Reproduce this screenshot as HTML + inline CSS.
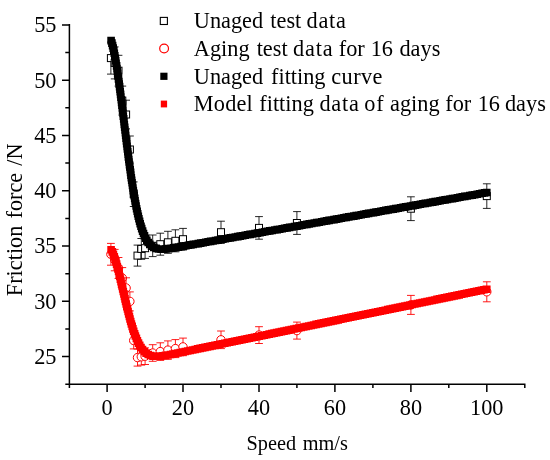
<!DOCTYPE html>
<html><head><meta charset="utf-8"><title>Friction force vs speed</title>
<style>
html,body{margin:0;padding:0;background:#fff;}
body{width:550px;height:460px;overflow:hidden;}
svg{display:block;font-family:"Liberation Serif","Times New Roman",serif;}
</style></head><body>
<svg width="550" height="460" viewBox="0 0 550 460">
<rect width="550" height="460" fill="#fff"/>

<g id="unaged-data" stroke="#000" stroke-width="0.85" fill="#fff">
<path d="M110.9 42.1V74.1M107.0 42.1h7.8M107.0 74.1h7.8" fill="none"/><rect x="107.4" y="54.6" width="7" height="7" stroke-width="1"/>
<path d="M114.7 46.9V78.9M110.8 46.9h7.8M110.8 78.9h7.8" fill="none"/><rect x="111.2" y="59.4" width="7" height="7" stroke-width="1"/>
<path d="M118.5 55.3V86.1M114.6 55.3h7.8M114.6 86.1h7.8" fill="none"/><rect x="115.0" y="67.2" width="7" height="7" stroke-width="1"/>
<path d="M122.3 86.1V115.1M118.4 86.1h7.8M118.4 115.1h7.8" fill="none"/><rect x="118.8" y="97.1" width="7" height="7" stroke-width="1"/>
<path d="M126.1 100.2V128.8M122.2 100.2h7.8M122.2 128.8h7.8" fill="none"/><rect x="122.6" y="111.0" width="7" height="7" stroke-width="1"/>
<path d="M129.9 136.0V163.0M126.0 136.0h7.8M126.0 163.0h7.8" fill="none"/><rect x="126.4" y="146.0" width="7" height="7" stroke-width="1"/>
<path d="M133.7 181.9V206.5M129.8 181.9h7.8M129.8 206.5h7.8" fill="none"/><rect x="130.2" y="190.7" width="7" height="7" stroke-width="1"/>
<path d="M137.5 245.1V266.1M133.6 245.1h7.8M133.6 266.1h7.8" fill="none"/><rect x="134.0" y="252.1" width="7" height="7" stroke-width="1"/>
<path d="M141.3 238.5V259.3M137.4 238.5h7.8M137.4 259.3h7.8" fill="none"/><rect x="137.8" y="245.4" width="7" height="7" stroke-width="1"/>
<path d="M145.1 238.0V258.4M141.2 238.0h7.8M141.2 258.4h7.8" fill="none"/><rect x="141.6" y="244.7" width="7" height="7" stroke-width="1"/>
<path d="M152.7 235.0V256.6M148.8 235.0h7.8M148.8 256.6h7.8" fill="none"/><rect x="149.2" y="242.3" width="7" height="7" stroke-width="1"/>
<path d="M160.3 233.2V255.2M156.4 233.2h7.8M156.4 255.2h7.8" fill="none"/><rect x="156.8" y="240.7" width="7" height="7" stroke-width="1"/>
<path d="M167.9 231.3V253.3M164.0 231.3h7.8M164.0 253.3h7.8" fill="none"/><rect x="164.4" y="238.8" width="7" height="7" stroke-width="1"/>
<path d="M175.4 229.8V251.8M171.5 229.8h7.8M171.5 251.8h7.8" fill="none"/><rect x="171.9" y="237.3" width="7" height="7" stroke-width="1"/>
<path d="M183.0 228.4V250.0M179.1 228.4h7.8M179.1 250.0h7.8" fill="none"/><rect x="179.5" y="235.7" width="7" height="7" stroke-width="1"/>
<path d="M221.0 221.2V243.2M217.1 221.2h7.8M217.1 243.2h7.8" fill="none"/><rect x="217.5" y="228.7" width="7" height="7" stroke-width="1"/>
<path d="M259.0 216.6V239.2M255.1 216.6h7.8M255.1 239.2h7.8" fill="none"/><rect x="255.5" y="224.4" width="7" height="7" stroke-width="1"/>
<path d="M296.9 211.6V234.4M293.1 211.6h7.8M293.1 234.4h7.8" fill="none"/><rect x="293.4" y="219.5" width="7" height="7" stroke-width="1"/>
<path d="M410.9 196.8V220.6M407.0 196.8h7.8M407.0 220.6h7.8" fill="none"/><rect x="407.4" y="205.2" width="7" height="7" stroke-width="1"/>
<path d="M486.8 183.8V208.4M482.9 183.8h7.8M482.9 208.4h7.8" fill="none"/><rect x="483.3" y="192.6" width="7" height="7" stroke-width="1"/>
</g>
<g id="aged-data" stroke="#f00" stroke-width="0.9" fill="#fff">
<path d="M110.9 243.4V265.2M107.0 243.4h7.8M107.0 265.2h7.8" fill="none"/><circle cx="110.9" cy="254.3" r="4.2" stroke-width="1"/>
<path d="M114.7 249.4V270.8M110.8 249.4h7.8M110.8 270.8h7.8" fill="none"/><circle cx="114.7" cy="260.1" r="4.2" stroke-width="1"/>
<path d="M118.5 257.5V278.5M114.6 257.5h7.8M114.6 278.5h7.8" fill="none"/><circle cx="118.5" cy="268.0" r="4.2" stroke-width="1"/>
<path d="M122.3 267.6V288.6M118.4 267.6h7.8M118.4 288.6h7.8" fill="none"/><circle cx="122.3" cy="278.1" r="4.2" stroke-width="1"/>
<path d="M126.1 277.8V298.2M122.2 277.8h7.8M122.2 298.2h7.8" fill="none"/><circle cx="126.1" cy="288.0" r="4.2" stroke-width="1"/>
<path d="M129.9 291.9V310.9M126.0 291.9h7.8M126.0 310.9h7.8" fill="none"/><circle cx="129.9" cy="301.4" r="4.2" stroke-width="1"/>
<path d="M133.7 332.1V348.9M129.8 332.1h7.8M129.8 348.9h7.8" fill="none"/><circle cx="133.7" cy="340.5" r="4.2" stroke-width="1"/>
<path d="M137.5 349.1V366.1M133.6 349.1h7.8M133.6 366.1h7.8" fill="none"/><circle cx="137.5" cy="357.6" r="4.2" stroke-width="1"/>
<path d="M141.3 348.5V365.1M137.4 348.5h7.8M137.4 365.1h7.8" fill="none"/><circle cx="141.3" cy="356.8" r="4.2" stroke-width="1"/>
<path d="M145.1 347.9V364.5M141.2 347.9h7.8M141.2 364.5h7.8" fill="none"/><circle cx="145.1" cy="356.2" r="4.2" stroke-width="1"/>
<path d="M152.7 344.7V361.3M148.8 344.7h7.8M148.8 361.3h7.8" fill="none"/><circle cx="152.7" cy="353.0" r="4.2" stroke-width="1"/>
<path d="M160.3 342.8V360.4M156.4 342.8h7.8M156.4 360.4h7.8" fill="none"/><circle cx="160.3" cy="351.6" r="4.2" stroke-width="1"/>
<path d="M167.9 340.9V359.3M164.0 340.9h7.8M164.0 359.3h7.8" fill="none"/><circle cx="167.9" cy="350.1" r="4.2" stroke-width="1"/>
<path d="M175.4 339.6V357.6M171.5 339.6h7.8M171.5 357.6h7.8" fill="none"/><circle cx="175.4" cy="348.6" r="4.2" stroke-width="1"/>
<path d="M183.0 338.1V355.7M179.1 338.1h7.8M179.1 355.7h7.8" fill="none"/><circle cx="183.0" cy="346.9" r="4.2" stroke-width="1"/>
<path d="M221.0 331.0V348.6M217.1 331.0h7.8M217.1 348.6h7.8" fill="none"/><circle cx="221.0" cy="339.8" r="4.2" stroke-width="1"/>
<path d="M259.0 326.7V343.5M255.1 326.7h7.8M255.1 343.5h7.8" fill="none"/><circle cx="259.0" cy="335.1" r="4.2" stroke-width="1"/>
<path d="M296.9 322.1V339.1M293.1 322.1h7.8M293.1 339.1h7.8" fill="none"/><circle cx="296.9" cy="330.6" r="4.2" stroke-width="1"/>
<path d="M410.9 295.4V314.4M407.0 295.4h7.8M407.0 314.4h7.8" fill="none"/><circle cx="410.9" cy="304.9" r="4.2" stroke-width="1"/>
<path d="M486.8 281.8V301.8M482.9 281.8h7.8M482.9 301.8h7.8" fill="none"/><circle cx="486.8" cy="291.8" r="4.2" stroke-width="1"/>
</g>
<path id="unaged-fit" d="M107.3 36.8h7.6v7.6h-7.6zM108.1 39.3h7.6v7.6h-7.6zM108.8 41.8h7.6v7.6h-7.6zM109.4 44.3h7.6v7.6h-7.6zM110.0 46.8h7.6v7.6h-7.6zM110.5 49.4h7.6v7.6h-7.6zM111.0 52.0h7.6v7.6h-7.6zM111.5 54.4h7.6v7.6h-7.6zM111.9 57.0h7.6v7.6h-7.6zM112.3 59.5h7.6v7.6h-7.6zM112.8 62.1h7.6v7.6h-7.6zM113.2 64.8h7.6v7.6h-7.6zM113.6 67.3h7.6v7.6h-7.6zM113.9 69.8h7.6v7.6h-7.6zM114.3 72.4h7.6v7.6h-7.6zM114.7 75.1h7.6v7.6h-7.6zM115.1 77.8h7.6v7.6h-7.6zM115.4 80.3h7.6v7.6h-7.6zM115.8 82.8h7.6v7.6h-7.6zM116.1 85.4h7.6v7.6h-7.6zM116.4 88.0h7.6v7.6h-7.6zM116.8 90.6h7.6v7.6h-7.6zM117.1 93.3h7.6v7.6h-7.6zM117.5 96.0h7.6v7.6h-7.6zM117.8 98.7h7.6v7.6h-7.6zM118.1 101.4h7.6v7.6h-7.6zM118.5 104.1h7.6v7.6h-7.6zM118.8 106.9h7.6v7.6h-7.6zM119.2 109.6h7.6v7.6h-7.6zM119.5 112.4h7.6v7.6h-7.6zM119.9 115.1h7.6v7.6h-7.6zM120.2 117.9h7.6v7.6h-7.6zM120.5 120.7h7.6v7.6h-7.6zM120.9 123.5h7.6v7.6h-7.6zM121.2 126.2h7.6v7.6h-7.6zM121.6 129.0h7.6v7.6h-7.6zM121.9 131.7h7.6v7.6h-7.6zM122.2 134.5h7.6v7.6h-7.6zM122.6 137.2h7.6v7.6h-7.6zM122.9 139.9h7.6v7.6h-7.6zM123.3 142.6h7.6v7.6h-7.6zM123.6 145.2h7.6v7.6h-7.6zM124.0 147.9h7.6v7.6h-7.6zM124.3 150.5h7.6v7.6h-7.6zM124.6 153.1h7.6v7.6h-7.6zM125.0 155.7h7.6v7.6h-7.6zM125.3 158.2h7.6v7.6h-7.6zM125.7 160.8h7.6v7.6h-7.6zM126.0 163.2h7.6v7.6h-7.6zM126.4 166.0h7.6v7.6h-7.6zM126.8 168.6h7.6v7.6h-7.6zM127.1 171.3h7.6v7.6h-7.6zM127.5 173.9h7.6v7.6h-7.6zM127.9 176.4h7.6v7.6h-7.6zM128.3 178.9h7.6v7.6h-7.6zM128.7 181.6h7.6v7.6h-7.6zM129.1 184.2h7.6v7.6h-7.6zM129.5 186.8h7.6v7.6h-7.6zM130.0 189.3h7.6v7.6h-7.6zM130.4 192.0h7.6v7.6h-7.6zM130.9 194.6h7.6v7.6h-7.6zM131.3 197.1h7.6v7.6h-7.6zM131.8 199.7h7.6v7.6h-7.6zM132.3 202.2h7.6v7.6h-7.6zM132.8 204.9h7.6v7.6h-7.6zM133.4 207.4h7.6v7.6h-7.6zM133.9 210.0h7.6v7.6h-7.6zM134.5 212.4h7.6v7.6h-7.6zM135.1 214.9h7.6v7.6h-7.6zM135.8 217.5h7.6v7.6h-7.6zM136.4 220.0h7.6v7.6h-7.6zM137.2 222.4h7.6v7.6h-7.6zM137.9 224.8h7.6v7.6h-7.6zM138.8 227.3h7.6v7.6h-7.6zM139.7 229.7h7.6v7.6h-7.6zM140.7 232.0h7.6v7.6h-7.6zM141.8 234.4h7.6v7.6h-7.6zM143.0 236.5h7.6v7.6h-7.6zM144.4 238.7h7.6v7.6h-7.6zM146.0 240.6h7.6v7.6h-7.6zM147.8 242.3h7.6v7.6h-7.6zM150.0 243.7h7.6v7.6h-7.6zM152.3 244.6h7.6v7.6h-7.6zM154.7 245.2h7.6v7.6h-7.6zM157.3 245.4h7.6v7.6h-7.6zM159.8 245.3h7.6v7.6h-7.6zM162.3 245.1h7.6v7.6h-7.6zM164.8 244.8h7.6v7.6h-7.6zM167.3 244.5h7.6v7.6h-7.6zM169.8 244.1h7.6v7.6h-7.6zM172.3 243.7h7.6v7.6h-7.6zM174.7 243.3h7.6v7.6h-7.6zM177.2 242.8h7.6v7.6h-7.6zM179.7 242.4h7.6v7.6h-7.6zM182.1 242.0h7.6v7.6h-7.6zM184.6 241.5h7.6v7.6h-7.6zM187.1 241.1h7.6v7.6h-7.6zM189.5 240.6h7.6v7.6h-7.6zM192.0 240.2h7.6v7.6h-7.6zM194.5 239.8h7.6v7.6h-7.6zM196.9 239.3h7.6v7.6h-7.6zM199.4 238.9h7.6v7.6h-7.6zM201.9 238.5h7.6v7.6h-7.6zM204.3 238.0h7.6v7.6h-7.6zM206.8 237.6h7.6v7.6h-7.6zM209.3 237.2h7.6v7.6h-7.6zM211.7 236.7h7.6v7.6h-7.6zM214.2 236.3h7.6v7.6h-7.6zM216.7 235.8h7.6v7.6h-7.6zM219.1 235.4h7.6v7.6h-7.6zM221.6 235.0h7.6v7.6h-7.6zM224.1 234.5h7.6v7.6h-7.6zM226.6 234.1h7.6v7.6h-7.6zM229.0 233.7h7.6v7.6h-7.6zM231.5 233.2h7.6v7.6h-7.6zM234.0 232.8h7.6v7.6h-7.6zM236.4 232.3h7.6v7.6h-7.6zM238.9 231.9h7.6v7.6h-7.6zM241.4 231.5h7.6v7.6h-7.6zM243.8 231.0h7.6v7.6h-7.6zM246.3 230.6h7.6v7.6h-7.6zM248.8 230.2h7.6v7.6h-7.6zM251.2 229.7h7.6v7.6h-7.6zM253.7 229.3h7.6v7.6h-7.6zM256.2 228.9h7.6v7.6h-7.6zM258.6 228.4h7.6v7.6h-7.6zM261.1 228.0h7.6v7.6h-7.6zM263.6 227.5h7.6v7.6h-7.6zM266.0 227.1h7.6v7.6h-7.6zM268.5 226.7h7.6v7.6h-7.6zM271.0 226.2h7.6v7.6h-7.6zM273.4 225.8h7.6v7.6h-7.6zM275.9 225.4h7.6v7.6h-7.6zM278.4 224.9h7.6v7.6h-7.6zM280.8 224.5h7.6v7.6h-7.6zM283.3 224.1h7.6v7.6h-7.6zM285.8 223.6h7.6v7.6h-7.6zM288.3 223.2h7.6v7.6h-7.6zM290.7 222.7h7.6v7.6h-7.6zM293.2 222.3h7.6v7.6h-7.6zM295.7 221.9h7.6v7.6h-7.6zM298.1 221.4h7.6v7.6h-7.6zM300.6 221.0h7.6v7.6h-7.6zM303.1 220.6h7.6v7.6h-7.6zM305.5 220.1h7.6v7.6h-7.6zM308.0 219.7h7.6v7.6h-7.6zM310.5 219.2h7.6v7.6h-7.6zM312.9 218.8h7.6v7.6h-7.6zM315.4 218.4h7.6v7.6h-7.6zM317.9 217.9h7.6v7.6h-7.6zM320.3 217.5h7.6v7.6h-7.6zM322.8 217.1h7.6v7.6h-7.6zM325.3 216.6h7.6v7.6h-7.6zM327.7 216.2h7.6v7.6h-7.6zM330.2 215.8h7.6v7.6h-7.6zM332.7 215.3h7.6v7.6h-7.6zM335.1 214.9h7.6v7.6h-7.6zM337.6 214.4h7.6v7.6h-7.6zM340.1 214.0h7.6v7.6h-7.6zM342.5 213.6h7.6v7.6h-7.6zM345.0 213.1h7.6v7.6h-7.6zM347.5 212.7h7.6v7.6h-7.6zM350.0 212.3h7.6v7.6h-7.6zM352.4 211.8h7.6v7.6h-7.6zM354.9 211.4h7.6v7.6h-7.6zM357.4 210.9h7.6v7.6h-7.6zM359.8 210.5h7.6v7.6h-7.6zM362.3 210.1h7.6v7.6h-7.6zM364.8 209.6h7.6v7.6h-7.6zM367.2 209.2h7.6v7.6h-7.6zM369.7 208.8h7.6v7.6h-7.6zM372.2 208.3h7.6v7.6h-7.6zM374.6 207.9h7.6v7.6h-7.6zM377.1 207.5h7.6v7.6h-7.6zM379.6 207.0h7.6v7.6h-7.6zM382.0 206.6h7.6v7.6h-7.6zM384.5 206.1h7.6v7.6h-7.6zM387.0 205.7h7.6v7.6h-7.6zM389.4 205.3h7.6v7.6h-7.6zM391.9 204.8h7.6v7.6h-7.6zM394.4 204.4h7.6v7.6h-7.6zM396.8 204.0h7.6v7.6h-7.6zM399.3 203.5h7.6v7.6h-7.6zM401.8 203.1h7.6v7.6h-7.6zM404.3 202.7h7.6v7.6h-7.6zM406.7 202.2h7.6v7.6h-7.6zM409.2 201.8h7.6v7.6h-7.6zM411.7 201.3h7.6v7.6h-7.6zM414.1 200.9h7.6v7.6h-7.6zM416.6 200.5h7.6v7.6h-7.6zM419.1 200.0h7.6v7.6h-7.6zM421.5 199.6h7.6v7.6h-7.6zM424.0 199.2h7.6v7.6h-7.6zM426.5 198.7h7.6v7.6h-7.6zM428.9 198.3h7.6v7.6h-7.6zM431.4 197.8h7.6v7.6h-7.6zM433.9 197.4h7.6v7.6h-7.6zM436.3 197.0h7.6v7.6h-7.6zM438.8 196.5h7.6v7.6h-7.6zM441.3 196.1h7.6v7.6h-7.6zM443.7 195.7h7.6v7.6h-7.6zM446.2 195.2h7.6v7.6h-7.6zM448.7 194.8h7.6v7.6h-7.6zM451.1 194.4h7.6v7.6h-7.6zM453.6 193.9h7.6v7.6h-7.6zM456.1 193.5h7.6v7.6h-7.6zM458.5 193.0h7.6v7.6h-7.6zM461.0 192.6h7.6v7.6h-7.6zM463.5 192.2h7.6v7.6h-7.6zM466.0 191.7h7.6v7.6h-7.6zM468.4 191.3h7.6v7.6h-7.6zM470.9 190.9h7.6v7.6h-7.6zM473.4 190.4h7.6v7.6h-7.6zM475.8 190.0h7.6v7.6h-7.6zM478.3 189.5h7.6v7.6h-7.6zM480.8 189.1h7.6v7.6h-7.6zM483.0 188.7h7.6v7.6h-7.6z" fill="#000"/>
<path id="aged-fit" d="M107.3 245.9h7.6v7.6h-7.6zM108.5 248.1h7.6v7.6h-7.6zM109.6 250.5h7.6v7.6h-7.6zM110.5 252.9h7.6v7.6h-7.6zM111.3 255.4h7.6v7.6h-7.6zM112.1 257.8h7.6v7.6h-7.6zM112.8 260.3h7.6v7.6h-7.6zM113.5 262.8h7.6v7.6h-7.6zM114.1 265.2h7.6v7.6h-7.6zM114.8 267.7h7.6v7.6h-7.6zM115.4 270.3h7.6v7.6h-7.6zM116.0 272.7h7.6v7.6h-7.6zM116.6 275.3h7.6v7.6h-7.6zM117.2 277.8h7.6v7.6h-7.6zM117.8 280.3h7.6v7.6h-7.6zM118.4 282.7h7.6v7.6h-7.6zM118.9 285.2h7.6v7.6h-7.6zM119.5 287.7h7.6v7.6h-7.6zM120.1 290.1h7.6v7.6h-7.6zM120.7 292.6h7.6v7.6h-7.6zM121.2 295.1h7.6v7.6h-7.6zM121.8 297.7h7.6v7.6h-7.6zM122.4 300.2h7.6v7.6h-7.6zM123.0 302.8h7.6v7.6h-7.6zM123.7 305.2h7.6v7.6h-7.6zM124.3 307.7h7.6v7.6h-7.6zM124.9 310.2h7.6v7.6h-7.6zM125.6 312.7h7.6v7.6h-7.6zM126.2 315.2h7.6v7.6h-7.6zM126.9 317.7h7.6v7.6h-7.6zM127.6 320.2h7.6v7.6h-7.6zM128.4 322.6h7.6v7.6h-7.6zM129.1 325.1h7.6v7.6h-7.6zM129.9 327.5h7.6v7.6h-7.6zM130.8 329.9h7.6v7.6h-7.6zM131.6 332.2h7.6v7.6h-7.6zM132.6 334.6h7.6v7.6h-7.6zM133.6 337.0h7.6v7.6h-7.6zM134.7 339.3h7.6v7.6h-7.6zM135.9 341.6h7.6v7.6h-7.6zM137.2 343.7h7.6v7.6h-7.6zM138.7 345.8h7.6v7.6h-7.6zM140.4 347.7h7.6v7.6h-7.6zM142.3 349.3h7.6v7.6h-7.6zM144.4 350.7h7.6v7.6h-7.6zM146.7 351.7h7.6v7.6h-7.6zM149.2 352.3h7.6v7.6h-7.6zM151.7 352.5h7.6v7.6h-7.6zM154.2 352.5h7.6v7.6h-7.6zM156.7 352.3h7.6v7.6h-7.6zM159.2 352.0h7.6v7.6h-7.6zM161.7 351.6h7.6v7.6h-7.6zM164.2 351.2h7.6v7.6h-7.6zM166.7 350.7h7.6v7.6h-7.6zM169.1 350.2h7.6v7.6h-7.6zM171.6 349.7h7.6v7.6h-7.6zM174.1 349.2h7.6v7.6h-7.6zM176.5 348.7h7.6v7.6h-7.6zM179.0 348.2h7.6v7.6h-7.6zM181.5 347.7h7.6v7.6h-7.6zM183.9 347.2h7.6v7.6h-7.6zM186.4 346.7h7.6v7.6h-7.6zM188.9 346.2h7.6v7.6h-7.6zM191.4 345.7h7.6v7.6h-7.6zM193.8 345.1h7.6v7.6h-7.6zM196.3 344.6h7.6v7.6h-7.6zM198.8 344.1h7.6v7.6h-7.6zM201.2 343.6h7.6v7.6h-7.6zM203.7 343.1h7.6v7.6h-7.6zM206.2 342.6h7.6v7.6h-7.6zM208.6 342.1h7.6v7.6h-7.6zM211.1 341.6h7.6v7.6h-7.6zM213.6 341.1h7.6v7.6h-7.6zM216.0 340.5h7.6v7.6h-7.6zM218.5 340.0h7.6v7.6h-7.6zM221.0 339.5h7.6v7.6h-7.6zM223.4 339.0h7.6v7.6h-7.6zM225.9 338.5h7.6v7.6h-7.6zM228.4 338.0h7.6v7.6h-7.6zM230.8 337.5h7.6v7.6h-7.6zM233.3 337.0h7.6v7.6h-7.6zM235.8 336.5h7.6v7.6h-7.6zM238.2 336.0h7.6v7.6h-7.6zM240.7 335.4h7.6v7.6h-7.6zM243.2 334.9h7.6v7.6h-7.6zM245.6 334.4h7.6v7.6h-7.6zM248.1 333.9h7.6v7.6h-7.6zM250.6 333.4h7.6v7.6h-7.6zM253.1 332.9h7.6v7.6h-7.6zM255.5 332.4h7.6v7.6h-7.6zM258.0 331.9h7.6v7.6h-7.6zM260.5 331.4h7.6v7.6h-7.6zM262.9 330.9h7.6v7.6h-7.6zM265.4 330.3h7.6v7.6h-7.6zM267.9 329.8h7.6v7.6h-7.6zM270.3 329.3h7.6v7.6h-7.6zM272.8 328.8h7.6v7.6h-7.6zM275.3 328.3h7.6v7.6h-7.6zM277.7 327.8h7.6v7.6h-7.6zM280.2 327.3h7.6v7.6h-7.6zM282.7 326.8h7.6v7.6h-7.6zM285.1 326.3h7.6v7.6h-7.6zM287.6 325.8h7.6v7.6h-7.6zM290.1 325.2h7.6v7.6h-7.6zM292.5 324.7h7.6v7.6h-7.6zM295.0 324.2h7.6v7.6h-7.6zM297.5 323.7h7.6v7.6h-7.6zM299.9 323.2h7.6v7.6h-7.6zM302.4 322.7h7.6v7.6h-7.6zM304.9 322.2h7.6v7.6h-7.6zM307.4 321.7h7.6v7.6h-7.6zM309.8 321.2h7.6v7.6h-7.6zM312.3 320.6h7.6v7.6h-7.6zM314.8 320.1h7.6v7.6h-7.6zM317.2 319.6h7.6v7.6h-7.6zM319.7 319.1h7.6v7.6h-7.6zM322.2 318.6h7.6v7.6h-7.6zM324.6 318.1h7.6v7.6h-7.6zM327.1 317.6h7.6v7.6h-7.6zM329.6 317.1h7.6v7.6h-7.6zM332.0 316.6h7.6v7.6h-7.6zM334.5 316.1h7.6v7.6h-7.6zM337.0 315.5h7.6v7.6h-7.6zM339.4 315.0h7.6v7.6h-7.6zM341.9 314.5h7.6v7.6h-7.6zM344.4 314.0h7.6v7.6h-7.6zM346.8 313.5h7.6v7.6h-7.6zM349.3 313.0h7.6v7.6h-7.6zM351.8 312.5h7.6v7.6h-7.6zM354.2 312.0h7.6v7.6h-7.6zM356.7 311.5h7.6v7.6h-7.6zM359.2 311.0h7.6v7.6h-7.6zM361.6 310.4h7.6v7.6h-7.6zM364.1 309.9h7.6v7.6h-7.6zM366.6 309.4h7.6v7.6h-7.6zM369.1 308.9h7.6v7.6h-7.6zM371.5 308.4h7.6v7.6h-7.6zM374.0 307.9h7.6v7.6h-7.6zM376.5 307.4h7.6v7.6h-7.6zM378.9 306.9h7.6v7.6h-7.6zM381.4 306.4h7.6v7.6h-7.6zM383.9 305.8h7.6v7.6h-7.6zM386.3 305.3h7.6v7.6h-7.6zM388.8 304.8h7.6v7.6h-7.6zM391.3 304.3h7.6v7.6h-7.6zM393.7 303.8h7.6v7.6h-7.6zM396.2 303.3h7.6v7.6h-7.6zM398.7 302.8h7.6v7.6h-7.6zM401.1 302.3h7.6v7.6h-7.6zM403.6 301.8h7.6v7.6h-7.6zM406.1 301.3h7.6v7.6h-7.6zM408.5 300.7h7.6v7.6h-7.6zM411.0 300.2h7.6v7.6h-7.6zM413.5 299.7h7.6v7.6h-7.6zM415.9 299.2h7.6v7.6h-7.6zM418.4 298.7h7.6v7.6h-7.6zM420.9 298.2h7.6v7.6h-7.6zM423.3 297.7h7.6v7.6h-7.6zM425.8 297.2h7.6v7.6h-7.6zM428.3 296.7h7.6v7.6h-7.6zM430.8 296.2h7.6v7.6h-7.6zM433.2 295.6h7.6v7.6h-7.6zM435.7 295.1h7.6v7.6h-7.6zM438.2 294.6h7.6v7.6h-7.6zM440.6 294.1h7.6v7.6h-7.6zM443.1 293.6h7.6v7.6h-7.6zM445.6 293.1h7.6v7.6h-7.6zM448.0 292.6h7.6v7.6h-7.6zM450.5 292.1h7.6v7.6h-7.6zM453.0 291.6h7.6v7.6h-7.6zM455.4 291.1h7.6v7.6h-7.6zM457.9 290.5h7.6v7.6h-7.6zM460.4 290.0h7.6v7.6h-7.6zM462.8 289.5h7.6v7.6h-7.6zM465.3 289.0h7.6v7.6h-7.6zM467.8 288.5h7.6v7.6h-7.6zM470.2 288.0h7.6v7.6h-7.6zM472.7 287.5h7.6v7.6h-7.6zM475.2 287.0h7.6v7.6h-7.6zM477.6 286.5h7.6v7.6h-7.6zM480.1 285.9h7.6v7.6h-7.6zM482.6 285.4h7.6v7.6h-7.6zM483.0 285.4h7.6v7.6h-7.6z" fill="#f00"/>
<path d="M69.4 24.1V384.2H525.5M69.4 384.2h-4.1M69.4 356.6h-7.4M69.4 329.0h-4.1M69.4 301.3h-7.4M69.4 273.7h-4.1M69.4 246.0h-7.4M69.4 218.4h-4.1M69.4 190.7h-7.4M69.4 163.1h-4.1M69.4 135.5h-7.4M69.4 107.8h-4.1M69.4 80.2h-7.4M69.4 52.5h-4.1M69.4 24.9h-7.4M69.4 384.2v3.9M107.1 384.2v7.8M145.1 384.2v3.9M183.0 384.2v7.8M221.0 384.2v3.9M259.0 384.2v7.8M296.9 384.2v3.9M334.9 384.2v7.8M372.9 384.2v3.9M410.9 384.2v7.8M448.8 384.2v3.9M486.8 384.2v7.8M524.8 384.2v3.9" stroke="#000" stroke-width="1.5" fill="none"/>
<g font-size="22.3" fill="#000">
<text x="56.5" y="364.0" text-anchor="end">25</text>
<text x="56.5" y="308.7" text-anchor="end">30</text>
<text x="56.5" y="253.4" text-anchor="end">35</text>
<text x="56.5" y="198.1" text-anchor="end">40</text>
<text x="56.5" y="142.9" text-anchor="end">45</text>
<text x="56.5" y="87.6" text-anchor="end">50</text>
<text x="56.5" y="32.3" text-anchor="end">55</text>
<text x="107.1" y="415.1" text-anchor="middle">0</text>
<text x="183.0" y="415.1" text-anchor="middle">20</text>
<text x="259.0" y="415.1" text-anchor="middle">40</text>
<text x="334.9" y="415.1" text-anchor="middle">60</text>
<text x="410.9" y="415.1" text-anchor="middle">80</text>
<text x="486.8" y="415.1" text-anchor="middle">100</text>
<text transform="translate(22.1 219.8) rotate(-90)" text-anchor="middle" word-spacing="1.5">Friction force /N</text>
</g>
<text x="246.6" y="450.1" font-size="20.3" word-spacing="1.5" fill="#000">Speed mm/s</text>
<g font-size="22.3" fill="#000">
<rect x="160.3" y="17.4" width="7.1" height="7.1" fill="#fff" stroke="#000" stroke-width="1.1"/>
<circle cx="164.1" cy="48.5" r="4.4" fill="#fff" stroke="#f00" stroke-width="1.2"/>
<rect x="160.3" y="72.7" width="7.2" height="7.2" fill="#000"/>
<rect x="160.8" y="100.6" width="6.3" height="6.8" fill="#f00"/>
<text x="193.8" y="27.9">Unaged <tspan dx="1.6">test</tspan> <tspan dx="-0.4" letter-spacing="0.8">data</tspan></text>
<text x="193.8" y="55.7">Aging <tspan dx="1.5">test</tspan> <tspan dx="-0.1" letter-spacing="0.8">data</tspan> <tspan dx="-0.2">for</tspan> <tspan dx="0.3">16</tspan> <tspan dx="0.9">days</tspan></text>
<text x="193.8" y="83.5">Unaged <tspan dx="2.3">fitting</tspan> <tspan dx="0.2" letter-spacing="0.4">curve</tspan></text>
<text x="193.8" y="111.3"><tspan letter-spacing="0.2">Model</tspan> <tspan dx="0.7">fitting</tspan> <tspan letter-spacing="0.8">data</tspan> <tspan dx="-1.0" letter-spacing="0.8">of</tspan> aging <tspan dx="0.1">for</tspan> <tspan dx="0.8">16</tspan> <tspan dx="-0.6">days</tspan></text>
</g>
</svg></body></html>
